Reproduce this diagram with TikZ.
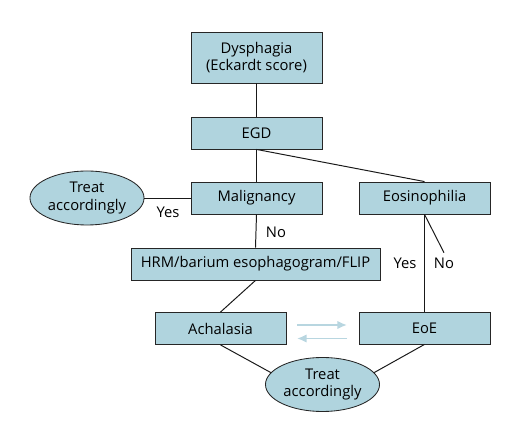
\documentclass[tikz,border=0pt]{standalone}
\usepackage{fontspec}
\setmainfont{Open Sans}
\usetikzlibrary{positioning,shapes.geometric,arrows.meta}
\definecolor{boxblue}{rgb}{0.69, 0.83, 0.87}
\definecolor{arrowblue}{rgb}{0.72, 0.84, 0.88}

\begin{document}
\begin{tikzpicture}[x=0.025cm, y=-0.025cm,
  font=\fontsize{10.5}{12.3}\selectfont,
  box/.style={draw=black!85, fill=boxblue, line width=0.6pt, minimum width=3.275cm, minimum height=0.8cm, inner sep=0pt, align=center},
  oval/.style={ellipse, draw=black!85, fill=boxblue, line width=0.6pt, minimum width=2.85cm, minimum height=1.35cm, inner sep=0pt, align=center},
  link/.style={line width=0.7pt, black!90},
  swap/.style={-{Latex[length=2.4mm,width=2.1mm]}, line width=1.2pt, arrowblue}]

\useasboundingbox (0,0) rectangle (520,444);
% boxes
\node [box, minimum height=1.275cm] (dysphagia) at (256.5,57.5) {Dysphagia\\(Eckardt score)};
\node [box] (egd) at (256.5,133) {EGD};
\node [box] (malignancy) at (256.5,198) {Malignancy};
\node [box] (eosinophilia) at (424.5,198) {Eosinophilia};
\node [box, minimum width=6.225cm] (hrm) at (255.5,264) {HRM/barium esophagogram/FLIP};
\node [box] (achalasia) at (220.5,328.5) {Achalasia};
\node [box] (eoe) at (424.5,328) {EoE};
% ovals
\node [oval] (treatleft) at (87,198) {Treat\\accordingly};
\node [oval] (treatbottom) at (322.5,384.5) {Treat\\accordingly};
% writings
\node (yesleft) at (168,212) {Yes};
\node (nomid) at (276,232) {No};
\node (yesright) at (405,263) {Yes};
\node (noright) at (444,263) {No};
% straight lines
\draw [link] (dysphagia.south) -- (egd.north);
\draw [link] (egd.south) -- (malignancy.north);
\draw [link] (egd.south) -- (eosinophilia.north);
\draw [link] (malignancy.west) -- (treatleft.east);
\draw [link] (malignancy.south) -- (hrm.north);
\draw [link] (hrm.south) -- (achalasia.north);
\draw [link] (eosinophilia.south) -- (eoe.north);
\draw [link] (eosinophilia.south) -- (noright.north);
\draw [link] (achalasia.south) -- (treatbottom.167);
\draw [link] (eoe.south) -- (treatbottom.13);
% arrows
\coordinate (toptail) at (297,325);
\coordinate (tophead) at (347,325);
\coordinate (lowtail) at (347,338.5);
\coordinate (lowhead) at (297,338.5);
\draw [swap] (toptail) -- (tophead);
\draw [swap] (lowtail) -- (lowhead);

\end{tikzpicture}
\end{document}
